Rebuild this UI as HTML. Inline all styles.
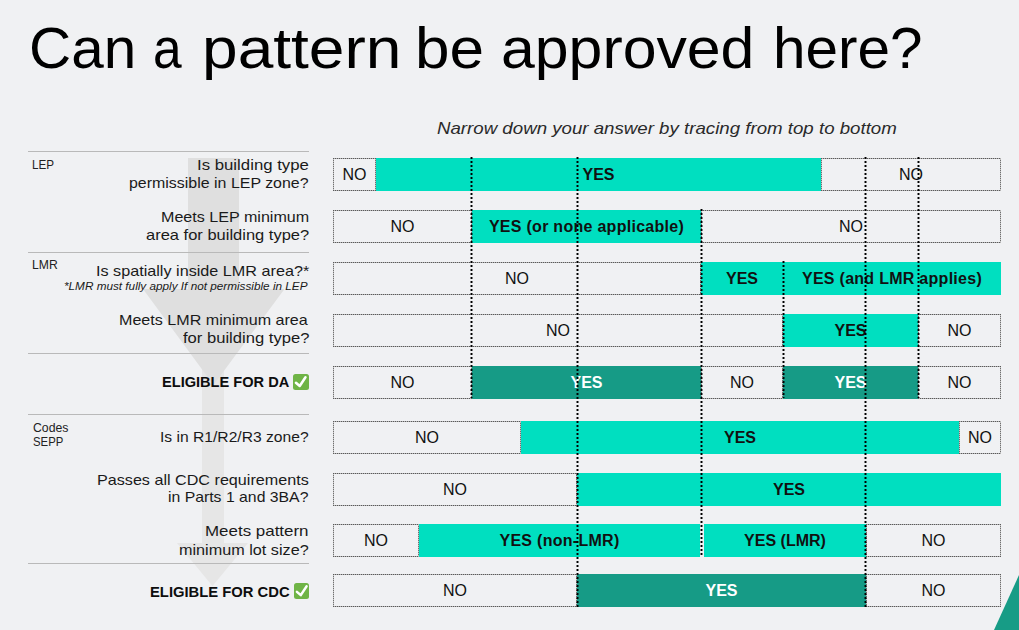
<!DOCTYPE html>
<html><head><meta charset="utf-8"><style>
html,body{margin:0;padding:0;}
body{width:1019px;height:630px;overflow:hidden;position:relative;background:#f0f1f3;font-family:"Liberation Sans",sans-serif;color:#111;}
.t{position:absolute;white-space:nowrap;transform-origin:0 0;}
.cell{position:absolute;box-sizing:border-box;display:flex;align-items:center;justify-content:center;font-size:16px;}
.no{color:#111;background:repeating-linear-gradient(to right,#5a5a5a 0 1px,#b4b4b4 1px 2px) left top/100% 1px no-repeat,repeating-linear-gradient(to right,#5a5a5a 0 1px,#b4b4b4 1px 2px) left bottom/100% 1px no-repeat,repeating-linear-gradient(to bottom,#707070 0 1px,#c4c4c4 1px 2px) left top/1px 100% no-repeat,repeating-linear-gradient(to bottom,#707070 0 1px,#c4c4c4 1px 2px) right top/1px 100% no-repeat;}
.teal{background:#00dfc0;font-weight:bold;color:#111;}
.dark{background:#169b86;font-weight:bold;color:#fff;}
.vl{position:absolute;width:3px;background:radial-gradient(circle at 1.5px 2px,#000 0,#000 0.75px,rgba(0,0,0,0) 1.45px) 0 0/3px 4px repeat-y;}
.hl{position:absolute;left:28px;width:281px;height:1px;background:#b9b9b9;}
.ck{position:absolute;background:#6fb446;border-radius:2.5px;}
</style></head><body>
<svg style="position:absolute;left:0;top:0" width="1019" height="630">
<polygon fill="#e6e6e6" points="202,300 224,300 224,543 248,543 212.5,586 177,543 202,543"/>
<polygon fill="#dfdfdf" points="188,158 239,158 239,289 284.5,289 213.5,385 143,289 188,289"/>
<polygon fill="#179c86" points="1019,575 1019,630 994,630"/>
</svg>
<div class="hl" style="top:151px"></div>
<div class="hl" style="top:252px"></div>
<div class="hl" style="top:353px"></div>
<div class="hl" style="top:414px"></div>
<div class="hl" style="top:563px"></div>
<div class="t" style="left:29.45px;top:20.30px;font-size:57px;line-height:57px;transform:scaleX(1.0256);color:#000;">Can</div>
<div class="t" style="left:152.69px;top:20.30px;font-size:57px;line-height:57px;transform:scaleX(0.9033);color:#000;">a</div>
<div class="t" style="left:201.73px;top:20.30px;font-size:57px;line-height:57px;transform:scaleX(1.1238);color:#000;">pattern</div>
<div class="t" style="left:415.23px;top:20.30px;font-size:57px;line-height:57px;transform:scaleX(1.0886);color:#000;">be</div>
<div class="t" style="left:500.87px;top:20.30px;font-size:57px;line-height:57px;transform:scaleX(1.0662);color:#000;">approved</div>
<div class="t" style="left:773.42px;top:20.30px;font-size:57px;line-height:57px;transform:scaleX(1.0256);color:#000;">here?</div>
<div class="t" style="left:436.60px;top:120.20px;font-size:17px;line-height:17px;transform:scaleX(1.0985);font-style:italic;color:#2a2a2a;">Narrow down your answer by tracing from top to bottom</div>
<div class="t" style="left:196.98px;top:157.30px;font-size:15px;line-height:15px;transform:scaleX(1.1183);color:#1a1a1a;">Is building type</div>
<div class="t" style="left:129.00px;top:175.10px;font-size:15px;line-height:15px;transform:scaleX(1.0627);color:#1a1a1a;">permissible in LEP zone?</div>
<div class="t" style="left:160.53px;top:208.70px;font-size:15px;line-height:15px;transform:scaleX(1.0732);color:#1a1a1a;">Meets LEP minimum</div>
<div class="t" style="left:145.70px;top:226.70px;font-size:15px;line-height:15px;transform:scaleX(1.0993);color:#1a1a1a;">area for building type?</div>
<div class="t" style="left:95.62px;top:262.50px;font-size:15px;line-height:15px;transform:scaleX(1.0790);color:#1a1a1a;">Is spatially inside LMR area?*</div>
<div class="t" style="left:64.30px;top:281.40px;font-size:11px;line-height:11px;transform:scaleX(1.0678);font-style:italic;color:#1a1a1a;">*LMR must fully apply If not permissible in LEP</div>
<div class="t" style="left:119.03px;top:312.10px;font-size:15px;line-height:15px;transform:scaleX(1.0733);color:#1a1a1a;">Meets LMR minimum area</div>
<div class="t" style="left:182.50px;top:330.40px;font-size:15px;line-height:15px;transform:scaleX(1.1062);color:#1a1a1a;">for building type?</div>
<div class="t" style="left:161.56px;top:373.70px;font-size:15.5px;line-height:15.5px;transform:scaleX(0.9410);font-weight:bold;color:#0d0d0d;">ELIGIBLE FOR DA</div>
<div class="t" style="left:160.26px;top:429.40px;font-size:15px;line-height:15px;transform:scaleX(1.0423);color:#1a1a1a;">Is in R1/R2/R3 zone?</div>
<div class="t" style="left:97.32px;top:471.80px;font-size:15px;line-height:15px;transform:scaleX(1.0761);color:#1a1a1a;">Passes all CDC requirements</div>
<div class="t" style="left:168.45px;top:489.40px;font-size:15px;line-height:15px;transform:scaleX(1.0524);color:#1a1a1a;">in Parts 1 and 3BA?</div>
<div class="t" style="left:205.37px;top:523.40px;font-size:15px;line-height:15px;transform:scaleX(1.1287);color:#1a1a1a;">Meets pattern</div>
<div class="t" style="left:179.22px;top:541.70px;font-size:15px;line-height:15px;transform:scaleX(1.0802);color:#1a1a1a;">minimum lot size?</div>
<div class="t" style="left:149.95px;top:583.50px;font-size:15.5px;line-height:15.5px;transform:scaleX(0.9539);font-weight:bold;color:#0d0d0d;">ELIGIBLE FOR CDC</div>
<div class="t" style="left:31.90px;top:158.10px;font-size:13px;line-height:13px;transform:scaleX(0.8995);color:#222;">LEP</div>
<div class="t" style="left:31.86px;top:258.20px;font-size:13px;line-height:13px;transform:scaleX(0.9363);color:#222;">LMR</div>
<div class="t" style="left:32.70px;top:420.80px;font-size:13px;line-height:13px;transform:scaleX(0.9428);color:#222;">Codes</div>
<div class="t" style="left:32.70px;top:434.60px;font-size:13px;line-height:13px;transform:scaleX(0.8732);color:#222;">SEPP</div>
<div class="ck" style="left:293.2px;top:374px;width:15.6px;height:15.6px"><svg width="100%" height="100%" viewBox="0 0 16 16" style="display:block"><path d="M3 9 L6.9 12.3 L12.8 3.4" fill="none" stroke="#fff" stroke-width="2.6" stroke-linecap="round" stroke-linejoin="round"/></svg></div>
<div class="ck" style="left:293.7px;top:583px;width:15.7px;height:15.8px"><svg width="100%" height="100%" viewBox="0 0 16 16" style="display:block"><path d="M3 9 L6.9 12.3 L12.8 3.4" fill="none" stroke="#fff" stroke-width="2.6" stroke-linecap="round" stroke-linejoin="round"/></svg></div>
<div class="cell no" style="left:333px;top:158px;width:43px;height:33px;">NO</div>
<div class="cell teal" style="left:376px;top:158px;width:445px;height:33px;">YES</div>
<div class="cell no" style="left:821px;top:158px;width:180px;height:33px;">NO</div>
<div class="cell no" style="left:333px;top:210px;width:139px;height:33px;">NO</div>
<div class="cell teal" style="left:472px;top:210px;width:229px;height:33px;letter-spacing:0.28px;">YES (or none applicable)</div>
<div class="cell no" style="left:701px;top:210px;width:300px;height:33px;">NO</div>
<div class="cell no" style="left:333px;top:262px;width:368px;height:33px;">NO</div>
<div class="cell teal" style="left:701px;top:262px;width:82px;height:33px;">YES</div>
<div class="cell teal" style="left:783px;top:262px;width:218px;height:33px;letter-spacing:0.28px;">YES (and LMR applies)</div>
<div class="cell no" style="left:333px;top:314px;width:450px;height:33px;">NO</div>
<div class="cell teal" style="left:783px;top:314px;width:135px;height:33px;">YES</div>
<div class="cell no" style="left:918px;top:314px;width:83px;height:33px;">NO</div>
<div class="cell no" style="left:333px;top:366px;width:139px;height:33px;">NO</div>
<div class="cell dark" style="left:472px;top:366px;width:229px;height:33px;">YES</div>
<div class="cell no" style="left:701px;top:366px;width:82px;height:33px;">NO</div>
<div class="cell dark" style="left:783px;top:366px;width:135px;height:33px;">YES</div>
<div class="cell no" style="left:918px;top:366px;width:83px;height:33px;">NO</div>
<div class="cell no" style="left:333px;top:421px;width:188px;height:33px;">NO</div>
<div class="cell teal" style="left:521px;top:421px;width:438px;height:33px;">YES</div>
<div class="cell no" style="left:959px;top:421px;width:42px;height:33px;">NO</div>
<div class="cell no" style="left:333px;top:473px;width:244px;height:33px;">NO</div>
<div class="cell teal" style="left:577px;top:473px;width:424px;height:33px;">YES</div>
<div class="cell no" style="left:333px;top:524px;width:86px;height:33px;">NO</div>
<div class="cell teal" style="left:419px;top:524px;width:281px;height:33px;letter-spacing:0.28px;">YES (non-LMR)</div>
<div class="cell teal" style="left:704px;top:524px;width:162px;height:33px;">YES (LMR)</div>
<div class="cell no" style="left:866px;top:524px;width:135px;height:33px;">NO</div>
<div class="cell no" style="left:333px;top:574px;width:244px;height:33px;">NO</div>
<div class="cell dark" style="left:577px;top:574px;width:289px;height:33px;">YES</div>
<div class="cell no" style="left:866px;top:574px;width:135px;height:33px;">NO</div>
<div class="vl" style="left:470.4px;top:156.4px;height:241.6px"></div>
<div class="vl" style="left:575.9px;top:156.4px;height:450.6px"></div>
<div class="vl" style="left:699.9px;top:208.4px;height:348.6px"></div>
<div class="vl" style="left:781.5px;top:260.4px;height:137.6px"></div>
<div class="vl" style="left:864.4px;top:156.4px;height:450.6px"></div>
<div class="vl" style="left:916.5px;top:156.4px;height:241.6px"></div>
</body></html>
